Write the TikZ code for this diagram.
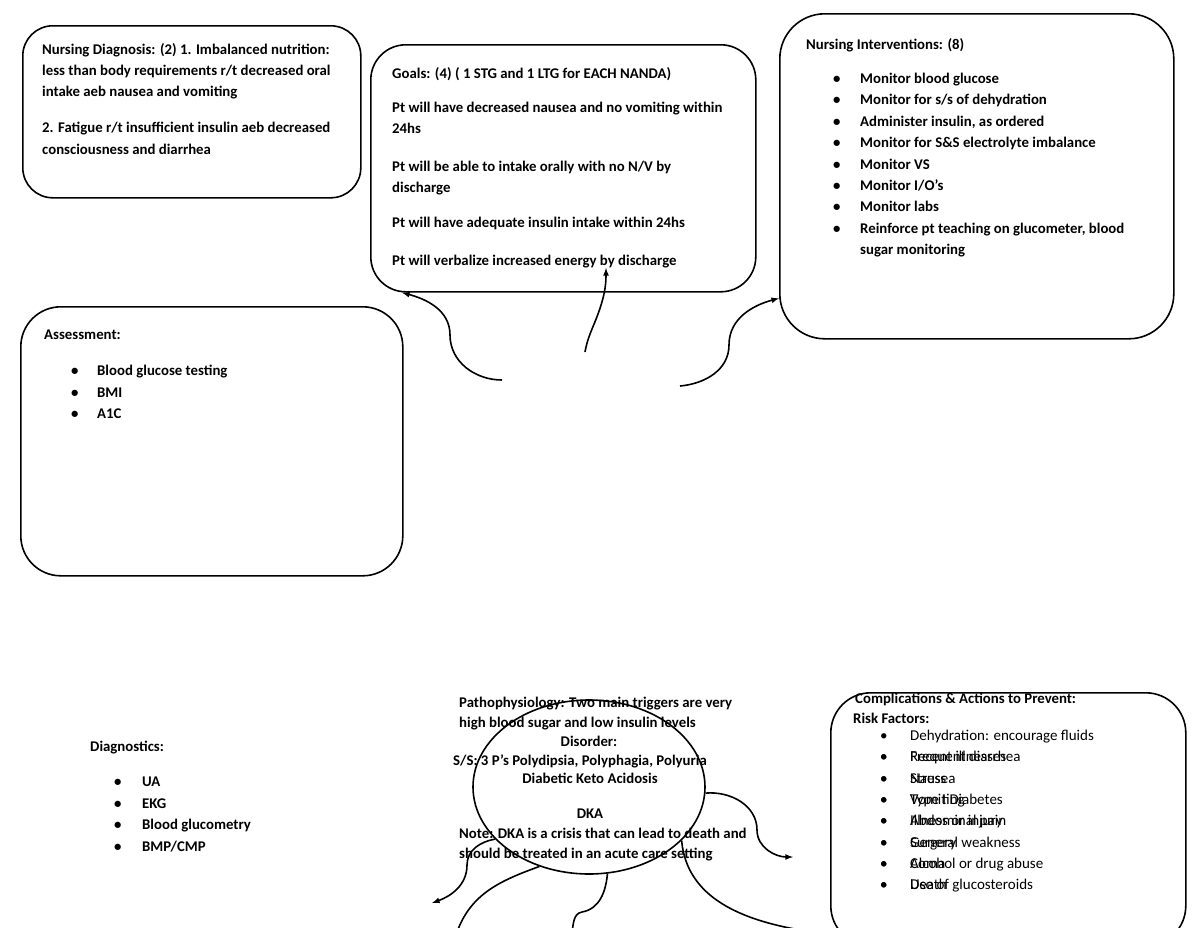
\documentclass[tikz,border=0pt]{standalone}
\usepackage{fontspec}
\setmainfont{Carlito}
\usetikzlibrary{arrows,shapes.geometric,calc}

\newcommand{\bitem}[2][26pt]{\makebox[#1][l]{\textbullet}#2}

\begin{document}
\begin{tikzpicture}[x=1pt, y=1pt,
  mapbox/.style={draw, line width=1.6pt, rounded corners=#1, anchor=north west, inner sep=0pt},
  mapbox/.default=35pt,
  txt/.style={anchor=north west, inner sep=0pt, align=left, font=\bfseries\fontsize{14.8}{21.4}\selectfont},
  pathtxt/.style={txt, font=\bfseries\fontsize{14.8}{20}\selectfont},
  lighttxt/.style={txt, font=\fontsize{15}{21.3}\selectfont},
  link/.style={line width=1.6pt},
  arr/.style={link, -latex}]
\useasboundingbox (0,0) rectangle (1200,-927);

% boxes
\node[mapbox=30pt, minimum width=338pt, minimum height=172pt] (diagbox) at (22,-25) {};
\node[mapbox, minimum width=385pt, minimum height=247pt] (goalsbox) at (370,-44) {};
\node[mapbox=45pt, minimum width=394pt, minimum height=325pt] (intbox) at (779,-13) {};
\node[mapbox=40pt, minimum width=382pt, minimum height=269pt] (assessbox) at (20,-306) {};
\node[mapbox=40pt, minimum width=355pt, minimum height=253pt] (compbox) at (830,-692) {};
\node[draw, ellipse, line width=1.6pt, minimum width=232pt, minimum height=174pt] (dka) at (589,-787) {};

% nursing diagnosis
\node[txt] (diagtxt) at (42,-43) {Nursing Diagnosis: (2) 1. Imbalanced nutrition:\\
  less than body requirements r/t decreased oral\\
  intake aeb nausea and vomiting\\[14.6pt]
  2. Fatigue r/t insufficient insulin aeb decreased\\
  consciousness and diarrhea};

% goals
\node[txt] (goalstxt) at (392,-67) {Goals: (4) ( 1 STG and 1 LTG for EACH NANDA)\\[12.6pt]
  Pt will have decreased nausea and no vomiting within\\
  24hs\\[16.6pt]
  Pt will be able to intake orally with no N/V by\\
  discharge\\[13.6pt]
  Pt will have adequate insulin intake within 24hs\\[16.6pt]
  Pt will verbalize increased energy by discharge};

% interventions
\node[txt] (inttitle) at (806,-38) {Nursing Interventions: (8)};
\node[txt] (intlist) at (833,-73) {\bitem[27pt]{Monitor blood glucose}\\
  \bitem[27pt]{Monitor for s/s of dehydration}\\
  \bitem[27pt]{Administer insulin, as ordered}\\
  \bitem[27pt]{Monitor for S\&S electrolyte imbalance}\\
  \bitem[27pt]{Monitor VS}\\
  \bitem[27pt]{Monitor I/O's}\\
  \bitem[27pt]{Monitor labs}\\
  \bitem[27pt]{Reinforce pt teaching on glucometer, blood}\\
  \hspace*{27pt}sugar monitoring};

% assessment
\node[txt] (assesstitle) at (44,-330) {Assessment:};
\node[txt] (assesslist) at (71,-365) {\bitem{Blood glucose testing}\\
  \bitem{BMI}\\
  \bitem{A1C}};

% diagnostics
\node[txt] (dxtitle) at (90,-741) {Diagnostics:};
\node[txt] (dxlist) at (114,-777) {\bitem[28pt]{UA}\\
  \bitem[28pt]{EKG}\\
  \bitem[28pt]{Blood glucometry}\\
  \bitem[28pt]{BMP/CMP}};

% disorder
\node[pathtxt] (pathotxt) at (459,-697) {Pathophysiology: Two main triggers are very\\
  high blood sugar and low insulin levels};
\node[pathtxt, anchor=north, align=center] (disordertxt) at (589,-736) {Disorder:};
\node[pathtxt] (sstxt) at (453,-755) {S/S: 3 P's Polydipsia, Polyphagia, Polyuria};
\node[pathtxt, anchor=north, align=center] (kindtxt) at (590,-773) {Diabetic Keto Acidosis\\[15pt] DKA};
\node[pathtxt] (notetxt) at (459,-828) {Note: DKA is a crisis that can lead to death and\\
  should be treated in an acute care setting};

% complications
\node[txt] (comptitle) at (855,-693) {Complications \& Actions to Prevent:};
\node[txt] (risktitle) at (853,-713) {Risk Factors:};
\node[lighttxt] (symlist) at (880,-730) {\bitem[30pt]{Dehydration: encourage fluids}\\
  \bitem[30pt]{Frequent diarrhea}\\
  \bitem[30pt]{Nausea}\\
  \bitem[30pt]{Vomiting}\\
  \bitem[30pt]{Abdominal pain}\\
  \bitem[30pt]{General weakness}\\
  \bitem[30pt]{Coma}\\
  \bitem[30pt]{Death}};
\node[lighttxt] (risklist) at (880,-751.3) {\bitem[30pt]{Recent illnesses}\\
  \bitem[30pt]{Stress}\\
  \bitem[30pt]{Type I Diabetes}\\
  \bitem[30pt]{Illness or injury}\\
  \bitem[30pt]{Surgery}\\
  \bitem[30pt]{Alcohol or drug abuse}\\
  \bitem[30pt]{Use of glucosteroids}};

% free ends
\coordinate (srcleft) at (502,-380);
\coordinate (srcmid) at (585,-352);
\coordinate (srcright) at (680,-386);
\coordinate (goalmid) at (606,-268);
\coordinate (leftend) at (432,-903);
\coordinate (rightend) at (793,-857);
\coordinate (endA) at (457,-932);
\coordinate (endB) at (572,-932);
\coordinate (endC) at (800,-930);

% links
\draw[arr] (srcleft) to[out=180,in=-90] (450,-335) to[out=90,in=-15] ([xshift=32pt]goalsbox.south west);
\draw[arr] (srcmid) to[out=80,in=-110] (598,-314) to[out=70,in=-90] (goalmid);
\draw[arr] (srcright) to[out=5,in=-90] (729,-345) to[out=90,in=195] ([yshift=-122pt]intbox.west);
\draw[arr] (dka.209) to[out=190,in=90] (467,-865) to[out=-90,in=20] (leftend);
\draw[arr] (dka.-3) to[out=5,in=90] (757,-830) to[out=-90,in=180] (rightend);
\draw[link] (dka.238) to[out=200,in=70] (endA);
\draw[link] (dka.-78) to[out=-95,in=10] (582,-912) to[out=190,in=80] (endB);
\draw[link] (dka.-30) to[out=-85,in=170] (endC);
\end{tikzpicture}
\end{document}
